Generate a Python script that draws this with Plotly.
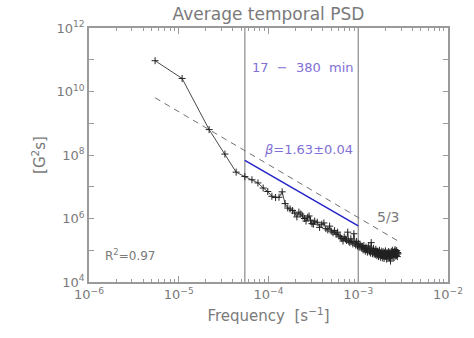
import plotly.graph_objects as go

# ---------------- data ----------------
# frequency in units of 1e-5 s^-1
freq_e5 = [0.545, 1.09, 2.18, 3.27, 4.36, 5.45, 6.54, 7.63, 8.72, 9.81, 10.9, 12.0, 13.1, 14.2, 15.3,
           16.4, 17.4, 18.5, 19.6, 20.7, 21.8, 22.9, 24.0, 25.1, 26.2, 27.3, 28.3, 29.4, 30.5, 31.6, 32.7,
           34.9, 37.1, 39.2, 41.4, 43.6, 45.8, 48.0, 50.1, 52.3, 54.5, 56.7, 58.9, 61.0, 63.2, 65.4,
           67.6, 69.8, 71.9, 74.1, 76.3, 78.5, 80.7, 82.8, 85.0, 87.2, 89.4, 91.6, 93.7, 95.9, 98.1,
           100.3, 102.5, 104.6, 106.8, 109.0,
           111.2, 113.4, 115.5, 117.7, 119.9, 122.1, 124.3, 126.4, 128.6, 130.8, 133.0, 135.2, 137.3,
           139.5, 141.7, 143.9, 146.1, 148.2, 150.4, 152.6, 154.8, 157.0, 159.1, 161.3, 163.5, 165.7,
           167.9, 170.0, 172.2, 174.4, 176.6, 178.8, 180.9, 183.1, 185.3, 187.5, 189.7, 191.8, 194.0,
           196.2, 198.4, 200.6, 202.7, 204.9, 207.1, 209.3, 211.5, 213.6, 215.8, 218.0, 220.2, 222.4,
           224.5, 226.7, 228.9, 231.1, 233.3, 235.4, 237.6, 239.8, 242.0, 244.2, 246.3, 248.5, 250.7,
           252.9, 255.1, 257.2, 259.4, 261.6, 263.8, 266.0, 268.1, 270.3, 272.5, 274.7, 276.9]

# log10 of PSD [G^2 s]
psd_log10 = [10.97, 10.41, 8.80, 8.03, 7.46, 7.32, 7.22, 7.12, 6.96, 6.85, 6.70, 6.66, 6.67, 6.84, 6.47,
             6.33, 6.30, 6.25, 6.17, 6.05, 6.20, 6.14, 6.08, 6.00, 5.92, 6.04, 6.08, 5.95, 5.84, 5.82, 5.92,
             5.88, 5.72, 5.82, 5.86, 5.68, 5.64, 5.76, 5.60, 5.55, 5.62, 5.50, 5.57, 5.45, 5.42, 5.37,
             5.29, 5.42, 5.35, 5.31, 5.57, 5.28, 5.24, 5.36, 5.27, 5.20, 5.52, 5.23, 5.16, 5.28, 5.13,
             5.22, 5.10, 5.19, 5.13, 5.07,
             5.12, 5.01, 5.15, 5.05, 4.97, 5.10, 5.02, 4.94, 5.07, 5.13, 4.95, 5.04, 4.91,
             5.24, 5.01, 4.89, 4.99, 5.06, 4.88, 4.97, 4.86, 5.03, 4.94, 4.83, 4.97, 4.89,
             4.80, 4.95, 5.00, 4.87, 4.78, 4.93, 4.84, 4.97, 4.76, 4.89, 4.95, 4.83, 4.74,
             4.92, 4.85, 4.98, 4.80, 4.89, 4.72, 4.93, 4.83, 4.90, 4.78, 4.96, 4.86, 4.76,
             4.92, 4.82, 4.66, 4.89, 4.96, 4.84, 4.79, 5.00, 4.89, 4.81, 4.94, 4.86, 4.77,
             4.97, 4.87, 5.02, 4.90, 4.82, 4.96, 4.84, 4.99, 4.88, 4.80, 4.93, 4.89]

fit_range_hz = [5.45e-5, 1.0e-3]          # band edges of the fit
fit_beta = 1.63
fit_amp_log10 = 0.88
k41_slope = 5.0 / 3.0
k41_amp_log10 = 1.03

freq = [v * 1e-5 for v in freq_e5]
psd = [10 ** v for v in psd_log10]

TXT = "#7a7a7a"
FONT = "DejaVu Sans"

fig = go.Figure()

# band edges
for fx in fit_range_hz:
    fig.add_trace(go.Scatter(x=[fx, fx], y=[1e4, 1e12], mode="lines",
                             line=dict(color="#8a8a8a", width=1.2), showlegend=False, hoverinfo="skip"))

# Kolmogorov -5/3 dashed reference
kx = [freq[0], freq[-1]]
ky = [10 ** (k41_amp_log10) * f ** (-k41_slope) for f in kx]
fig.add_trace(go.Scatter(x=kx, y=ky, mode="lines",
                         line=dict(color="#707070", width=1, dash="6px,5px"), showlegend=False))

# power-law fit (blue)
bx = fit_range_hz
by = [10 ** fit_amp_log10 * f ** (-fit_beta) for f in bx]
fig.add_trace(go.Scatter(x=bx, y=by, mode="lines",
                         line=dict(color="#2323c8", width=1.5), showlegend=False))

# PSD
fig.add_trace(go.Scatter(x=freq, y=psd, mode="lines+markers",
                         line=dict(color="#4a4a4a", width=1),
                         marker=dict(symbol="cross-thin", size=5, line=dict(color="#222222", width=1)),
                         showlegend=False))

# ---------------- axes ----------------
x_major = [1e-6, 1e-5, 1e-4, 1e-3, 1e-2]
x_labels = ["10<sup>−6</sup>", "10<sup>−5</sup>", "10<sup>−4</sup>", "10<sup>−3</sup>", "10<sup>−2</sup>"]
x_minor = [m * d for d in [1e-6, 1e-5, 1e-4, 1e-3] for m in range(2, 10)]
y_major = [10 ** e for e in range(4, 13)]
y_labels = [("10<sup>%d</sup>" % e) if e % 2 == 0 else "" for e in range(4, 13)]

axis_common = dict(showline=True, linecolor="#9a9a9a", linewidth=1.5, mirror="ticks",
                   ticks="inside", tickcolor="#9a9a9a", tickwidth=1, showgrid=False, zeroline=False,
                   tickfont=dict(family=FONT, size=13, color=TXT))

fig.update_xaxes(type="log", range=[-6, -2], tickmode="array", tickvals=x_major, ticktext=x_labels,
                 ticklen=6,
                 minor=dict(tickmode="array", tickvals=x_minor, ticks="inside", ticklen=3,
                            tickcolor="#9a9a9a", showgrid=False),
                 title=dict(text="Frequency  [s<sup>−1</sup>]", font=dict(family=FONT, size=15, color=TXT),
                            standoff=9),
                 **axis_common)
fig.update_yaxes(type="log", range=[4, 12], tickmode="array", tickvals=y_major, ticktext=y_labels,
                 ticklen=5,
                 title=dict(text="[G<sup>2</sup>s]", font=dict(family=FONT, size=15, color=TXT),
                            standoff=7),
                 **axis_common)

ann = dict(xref="paper", yref="paper", showarrow=False, xanchor="center", yanchor="middle")
fig.add_annotation(text="17  −  380  min", x=0.595, y=0.845,
                   font=dict(family=FONT, size=13, color="#8070d8"), **ann)
fig.add_annotation(text="<i>β</i>=1.63±0.04", x=0.612, y=0.520,
                   font=dict(family=FONT, size=13, color="#8070d8"), **ann)
fig.add_annotation(text="5/3", x=0.833, y=0.257,
                   font=dict(family=FONT, size=14, color=TXT), **ann)
fig.add_annotation(text="R<sup>2</sup>=0.97", x=0.114, y=0.106,
                   font=dict(family=FONT, size=12, color=TXT), **ann)

fig.update_layout(
    width=474, height=338,
    margin=dict(l=89, r=26, t=28, b=56),
    paper_bgcolor="white", plot_bgcolor="white",
    title=dict(text="Average temporal PSD", x=0.5, xref="paper", xanchor="center",
               y=1 - 14.5 / 338, yanchor="middle", font=dict(family=FONT, size=17, color=TXT)),
    showlegend=False,
)

fig.write_html("out.html")
